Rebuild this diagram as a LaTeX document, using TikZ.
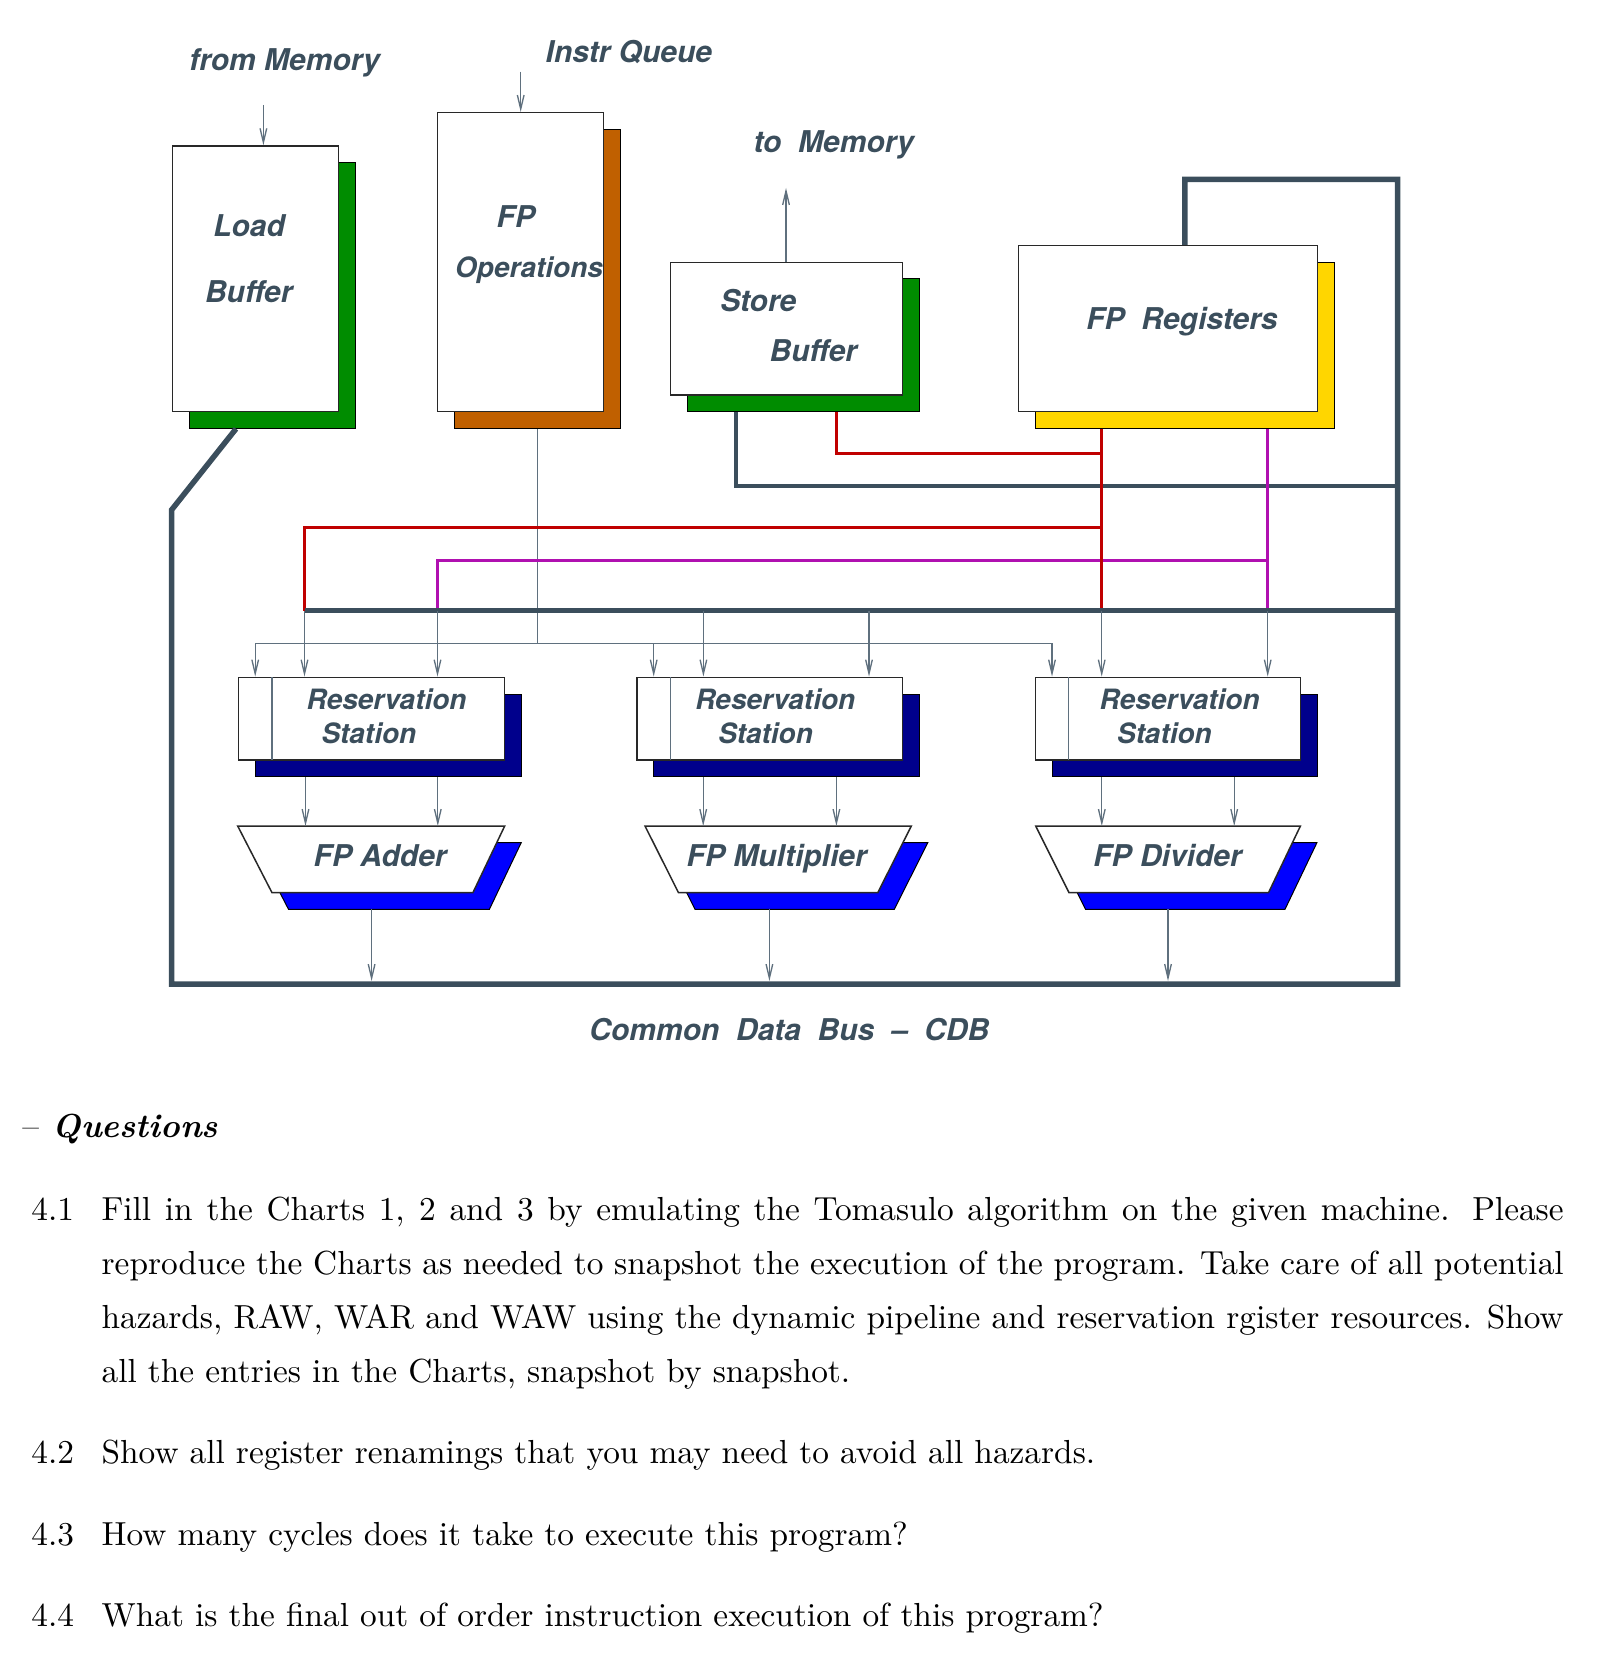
\documentclass[tikz,border=0pt]{standalone}
\usepackage{fontspec}
\newfontfamily\hv{TeX Gyre Heros}
\usetikzlibrary{arrows.meta,fit,calc}
\definecolor{ink}{RGB}{59,78,92}
\definecolor{arrc}{RGB}{95,112,126}
\definecolor{gr}{RGB}{0,140,0}
\definecolor{orng}{RGB}{192,96,0}
\definecolor{yel}{RGB}{255,214,0}
\definecolor{navy}{RGB}{0,0,140}
\definecolor{blu}{RGB}{0,0,255}
\definecolor{rd}{RGB}{192,0,0}
\definecolor{mg}{RGB}{176,16,176}
\definecolor{edge}{RGB}{40,40,40}
\begin{document}
\begin{tikzpicture}[x=0.3pt,y=-0.3pt,
  box/.style={draw=edge, fill=white, line width=0.45pt, inner sep=0pt},
  shad/.style={draw=black, line width=0.3pt, inner sep=0pt},
  lab/.style={font=\hv\bfseries\itshape\fontsize{9}{11}\selectfont, text=ink, inner sep=0pt, anchor=base west},
  rslab/.style={lab, font=\hv\bfseries\itshape\fontsize{8.4}{10}\selectfont},
  body/.style={font=\fontsize{10}{16.2}\selectfont, inner sep=0pt, anchor=base west},
  arr/.style={draw=arrc, line width=0.4pt, -{Straight Barb[length=4.2pt,width=2pt]}},
  thinl/.style={draw=arrc, line width=0.4pt},
  bus/.style={draw=ink, line width=1.65pt, line join=miter},
  gline/.style={draw=ink, line width=1pt, line join=miter},
  rline/.style={draw=rd, line width=0.9pt, line join=miter},
  mline/.style={draw=mg, line width=0.9pt, line join=miter},
  divl/.style={draw=arrc, line width=0.4pt}
]
\useasboundingbox (0,0) rectangle (1604,1680);

% ---------- top boxes ----------
\node[shad, fill=gr,   fit={(189,162.5)(355,428.3)}] (lbs) {};
\node[box,             fit={(172.5,146)(338.5,411.7)}] (lb) {};
\node[shad, fill=orng, fit={(454,129.3)(620.5,428.3)}] (fos) {};
\node[box,             fit={(437.5,112.7)(603.5,411.7)}] (fo) {};
\node[shad, fill=gr,   fit={(687,279)(919,411.7)}] (sbs) {};
\node[box,             fit={(670.4,262.3)(902.5,395)}] (sb) {};
\node[shad, fill=yel,  fit={(1035,262.3)(1334.3,428.3)}] (rgs) {};
\node[box,             fit={(1018.7,245.7)(1317.7,411.7)}] (rg) {};

% ---------- reservation stations ----------
\node[shad, fill=navy, fit={(255,694)(521,776.7)}] (rs1s) {};
\node[box,             fit={(238.5,677.3)(504.5,760)}] (rs1) {};
\node[shad, fill=navy, fit={(653.5,694)(919.3,776.7)}] (rs2s) {};
\node[box,             fit={(637,677.3)(902.5,760)}] (rs2) {};
\node[shad, fill=navy, fit={(1052,694)(1317.7,776.7)}] (rs3s) {};
\node[box,             fit={(1035.7,677.3)(1300.7,760)}] (rs3) {};
\draw[divl] (272,677.3) -- (272,760);
\draw[divl] (670.4,677.3) -- (670.4,760);
\draw[divl] (1068.3,677.3) -- (1068.3,760);

% ---------- functional units ----------
\draw[shad, fill=blu] (254.2,842.7) -- (521.2,842.7) -- (489.4,909.3) -- (288.5,909.3) -- cycle;
\draw[box] (237.7,826) -- (504.7,826) -- (472.9,892.7) -- (272,892.7) -- cycle;
\draw[shad, fill=blu] (661.5,842.7) -- (927.8,842.7) -- (894.3,909.3) -- (695,909.3) -- cycle;
\draw[box] (645,826) -- (911.3,826) -- (877.8,892.7) -- (678.5,892.7) -- cycle;
\draw[shad, fill=blu] (1052.2,842.7) -- (1316.9,842.7) -- (1285,909.3) -- (1085.5,909.3) -- cycle;
\draw[box] (1035.7,826) -- (1300.4,826) -- (1268.5,892.7) -- (1069,892.7) -- cycle;
\coordinate (fa) at (371.6,909.3);
\coordinate (fm) at (769.4,909.3);
\coordinate (fd) at (1168,909.3);

% ---------- labels ----------
\node[lab] (tFrom) at (188.7,70.5) {from Memory};
\node[lab] (tIQ) at (545,62.7) {Instr Queue};
\node[lab] (tTo) at (753,153) {to\ \ Memory};
\node[lab] (tL1) at (212.6,236.7) {Load};
\node[lab] (tL2) at (204.4,303) {Buffer};
\node[lab] (tF1) at (496,228) {FP};
\node[rslab] (tF2) at (454.5,278) {Operations};
\node[lab] (tS1) at (719.6,311.7) {Store};
\node[lab] (tS2) at (769,361.7) {Buffer};
\node[lab] (tR) at (1085.7,329) {FP\ \ Registers};
\node[rslab] (r1a) at (305.9,709) {Reservation};
\node[rslab] (r1b) at (321,743) {Station};
\node[rslab] (r2a) at (694.6,709) {Reservation};
\node[rslab] (r2b) at (717.6,743) {Station};
\node[rslab] (r3a) at (1099,709) {Reservation};
\node[rslab] (r3b) at (1116.5,743) {Station};
\node[lab] (tA) at (313,866.7) {FP Adder};
\node[lab] (tM) at (686,866.7) {FP Multiplier};
\node[lab] (tD) at (1092.7,866.7) {FP Divider};
\node[lab] (tCDB) at (588.8,1040) {Common\ \ Data\ \ Bus\ \ \textendash\ \ CDB};

% ---------- input / output arrows at top ----------
\coordinate (fromM) at (263.4,105);
\coordinate (fromIQ) at (520.7,71.7);
\coordinate (toM) at (786,188);
\draw[arr] (fromM) -- (fromM |- lb.north);
\draw[arr] (fromIQ) -- (fromIQ |- fo.north);
\draw[arr] (toM |- sb.north) -- (toM);

% ---------- FP operations distribution ----------
\coordinate (opJ) at (537.5,643.3);
\draw[thinl] (opJ |- fos.south) -- (opJ);
\draw[thinl] (255.2,643.3) -- (1052,643.3);
\draw[arr] (255.2,643.3) -- (255.2,0 |- rs1.north);
\draw[arr] (653.7,643.3) -- (653.7,0 |- rs2.north);
\draw[arr] (1052,643.3) -- (1052,0 |- rs3.north);

% ---------- store buffer / register lines ----------
\coordinate (frR) at (1397.5,486);
\draw[gline] (736,0 |- sbs.south) -- (736,486) -- (frR);
\draw[mline] (1267.7,0 |- rgs.south) -- (1267.7,610.7);
\draw[mline] (1267.7,560.7) -- (437.5,560.7) -- (437.5,610.7);
\draw[rline] (836.5,0 |- sbs.south) -- (836.5,453.3) -- (1101.7,453.3);
\draw[rline] (1101.7,0 |- rgs.south) -- (1101.7,610.7);
\draw[rline] (1101.7,527.7) -- (304.5,527.7) -- (304.5,610.7);

% ---------- common data bus frame ----------
\coordinate (busL) at (304.5,610.7);
\coordinate (busR) at (1397.5,610.7);
\draw[bus] (236,0 |- lbs.south) -- (171.5,510) -- (171.5,984) -- (1397.5,984)
  -- (1397.5,179.5) -- (1184.8,179.5) -- (1184.8,0 |- rg.north);
\draw[bus] (busL) -- (busR);

% ---------- bus to reservation stations ----------
\foreach \xx in {304.5,437.5}{\draw[arr] (\xx,610.7) -- (\xx,0 |- rs1.north);}
\foreach \xx in {703.4,869}{\draw[arr] (\xx,610.7) -- (\xx,0 |- rs2.north);}
\foreach \xx in {1101.7,1267.7}{\draw[arr] (\xx,610.7) -- (\xx,0 |- rs3.north);}

% ---------- reservation stations to units ----------
\foreach \xx in {305.5,437.8}{\draw[arr] (\xx,0 |- rs1s.south) -- (\xx,826);}
\foreach \xx in {703.2,836.4}{\draw[arr] (\xx,0 |- rs2s.south) -- (\xx,826);}
\foreach \xx in {1101.8,1234.2}{\draw[arr] (\xx,0 |- rs3s.south) -- (\xx,826);}

% ---------- units to CDB ----------
\draw[arr] (fa) -- (fa |- 0,981);
\draw[arr] (fm) -- (fm |- 0,981);
\draw[arr] (fd) -- (fd |- 0,981);

% ---------- questions ----------
\node[body] (qdash) at (21.7,1137.7) {\textendash};
\node[body] (qhead) at (52,1137.7) {\bfseries\itshape Questions};
\node[body] (n41) at (30.7,1220) {4.1};
\node[body, text width=438.6pt, align=justify] (q41) at (101,1220)
 {Fill in the Charts 1, 2 and 3 by emulating the Tomasulo algorithm on the given machine. Please\linebreak
  reproduce the Charts as needed to snapshot the execution of the program. Take care of all potential\linebreak
  hazards, RAW, WAR and WAW using the dynamic pipeline and reservation rgister resources. Show\linebreak
  all the entries in the Charts, snapshot by snapshot.};
\node[body] (n42) at (30.7,1463.3) {4.2};
\node[body] (q42) at (101,1463.3) {Show all register renamings that you may need to avoid all hazards.};
\node[body] (n43) at (30.7,1545) {4.3};
\node[body] (q43) at (101,1545) {How many cycles does it take to execute this program?};
\node[body] (n44) at (30.7,1626.7) {4.4};
\node[body] (q44) at (101,1626.7) {What is the final out of order instruction execution of this program?};
\end{tikzpicture}
\end{document}
